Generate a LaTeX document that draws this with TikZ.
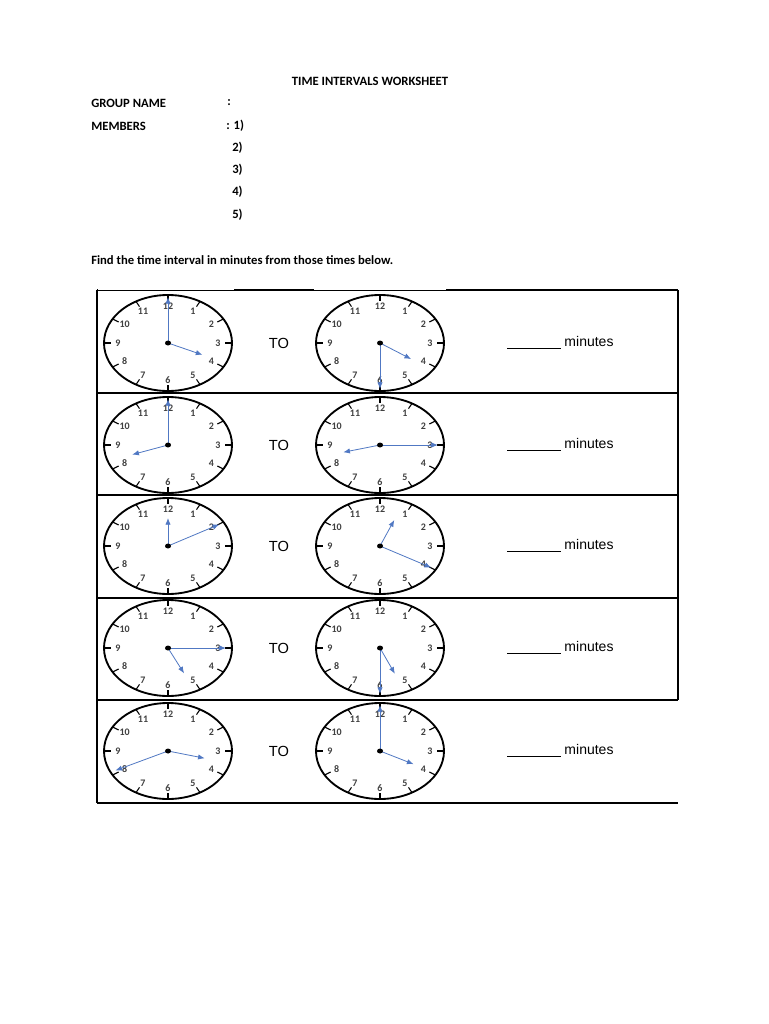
\documentclass[tikz,border=0pt]{standalone}
\usepackage{fontspec}
\setmainfont{Carlito}
\newfontfamily\arialf{Liberation Sans}
\usetikzlibrary{arrows.meta,calc}
\definecolor{hand}{RGB}{80,120,195}
\tikzset{
  hd/.style={draw=hand, line width=0.6pt, -{Latex[length=5pt,width=4pt]}},
  hdr/.style={font=\bfseries\fontsize{9.5}{11}\selectfont, anchor=west, inner sep=0},
  tot/.style={font=\arialf\fontsize{11}{12}\selectfont, inner sep=0},
  mins/.style={font=\arialf\fontsize{10.5}{12}\selectfont, inner sep=0},
}
\newcommand{\clockat}[5]{% name, x, y, minute angle, hour angle
  \coordinate (#1) at (#2,#3);
  \fill[white] (#1) ellipse [x radius=64, y radius=48];
  \draw[line width=1.4pt] (#1) ellipse [x radius=64, y radius=48];
  \foreach \h in {1,...,12}{
    \draw[line width=0.8pt] ($(#1)+({64*sin(\h*30)},{-48*cos(\h*30)})$) -- ($(#1)+({57*sin(\h*30)},{-42*cos(\h*30)})$);
    \node[font=\bfseries\fontsize{7.5}{8}\selectfont, text=black!75, inner sep=0] at ($(#1)+({50*sin(\h*30)},{-37*cos(\h*30)})$) {\h};
  }
  \draw[hd] (#1) -- ($(#1)+({58*sin(#4)},{-46*cos(#4)})$);
  \draw[hd] (#1) -- ($(#1)+({38*sin(#5)},{-28*cos(#5)})$);
  \fill (#1) circle [x radius=3, y radius=2.5];
}
\begin{document}
\begin{tikzpicture}[x=0.75pt,y=-0.75pt]
\useasboundingbox (0,0) rectangle (768,1024);
\fill[white] (0,0) rectangle (768,1024);
\node[font=\bfseries\fontsize{9.5}{11}\selectfont] (title) at (370,81) {TIME INTERVALS WORKSHEET};
\node[hdr] (g) at (91,103) {GROUP NAME};
\node[hdr] (gc) at (227,103) {:};
\node[hdr] (m) at (91,126) {MEMBERS};
\node[hdr] (m1) at (226,126) {: 1)};
\node[hdr] (m2) at (232,148) {2)};
\node[hdr] (m3) at (232,170) {3)};
\node[hdr] (m4) at (232,192) {4)};
\node[hdr] (m5) at (232,215) {5)};
\node[hdr] (find) at (91,260) {Find the time interval in minutes from those times below.};
\draw[line width=1.6pt] (97,290) -- (97,803);
\draw[line width=0.9pt] (678,290) -- (678,700);
\foreach \y in {290,393,495,598,700}{\draw[line width=0.9pt] (97,\y) -- (678,\y);}
\draw[line width=1.6pt] (97,803) -- (678,803);
\fill[white] (98,285) rectangle (234,289.5);
\fill[white] (314,285) rectangle (446,289.5);
\foreach \y/\i in {343/1,445/2,546/3,648/4,751/5}{
  \node[tot] (to\i) at (279,\y) {TO};
  \node[mins,anchor=west] (min\i) at (507,\y) {\underline{\hspace{40pt}}\ minutes};
}
\clockat{l1}{168}{343}{0}{115}
\clockat{r1}{380}{343}{180}{125}
\clockat{l2}{168}{445}{0}{250}
\clockat{r2}{380}{445}{90}{255}
\clockat{l3}{168}{546}{62}{0}
\clockat{r3}{380}{546}{118}{22}
\clockat{l4}{168}{648}{90}{155}
\clockat{r4}{380}{648}{180}{157}
\clockat{l5}{168}{751}{245}{105}
\clockat{r5}{380}{751}{0}{118}
\end{tikzpicture}
\end{document}
